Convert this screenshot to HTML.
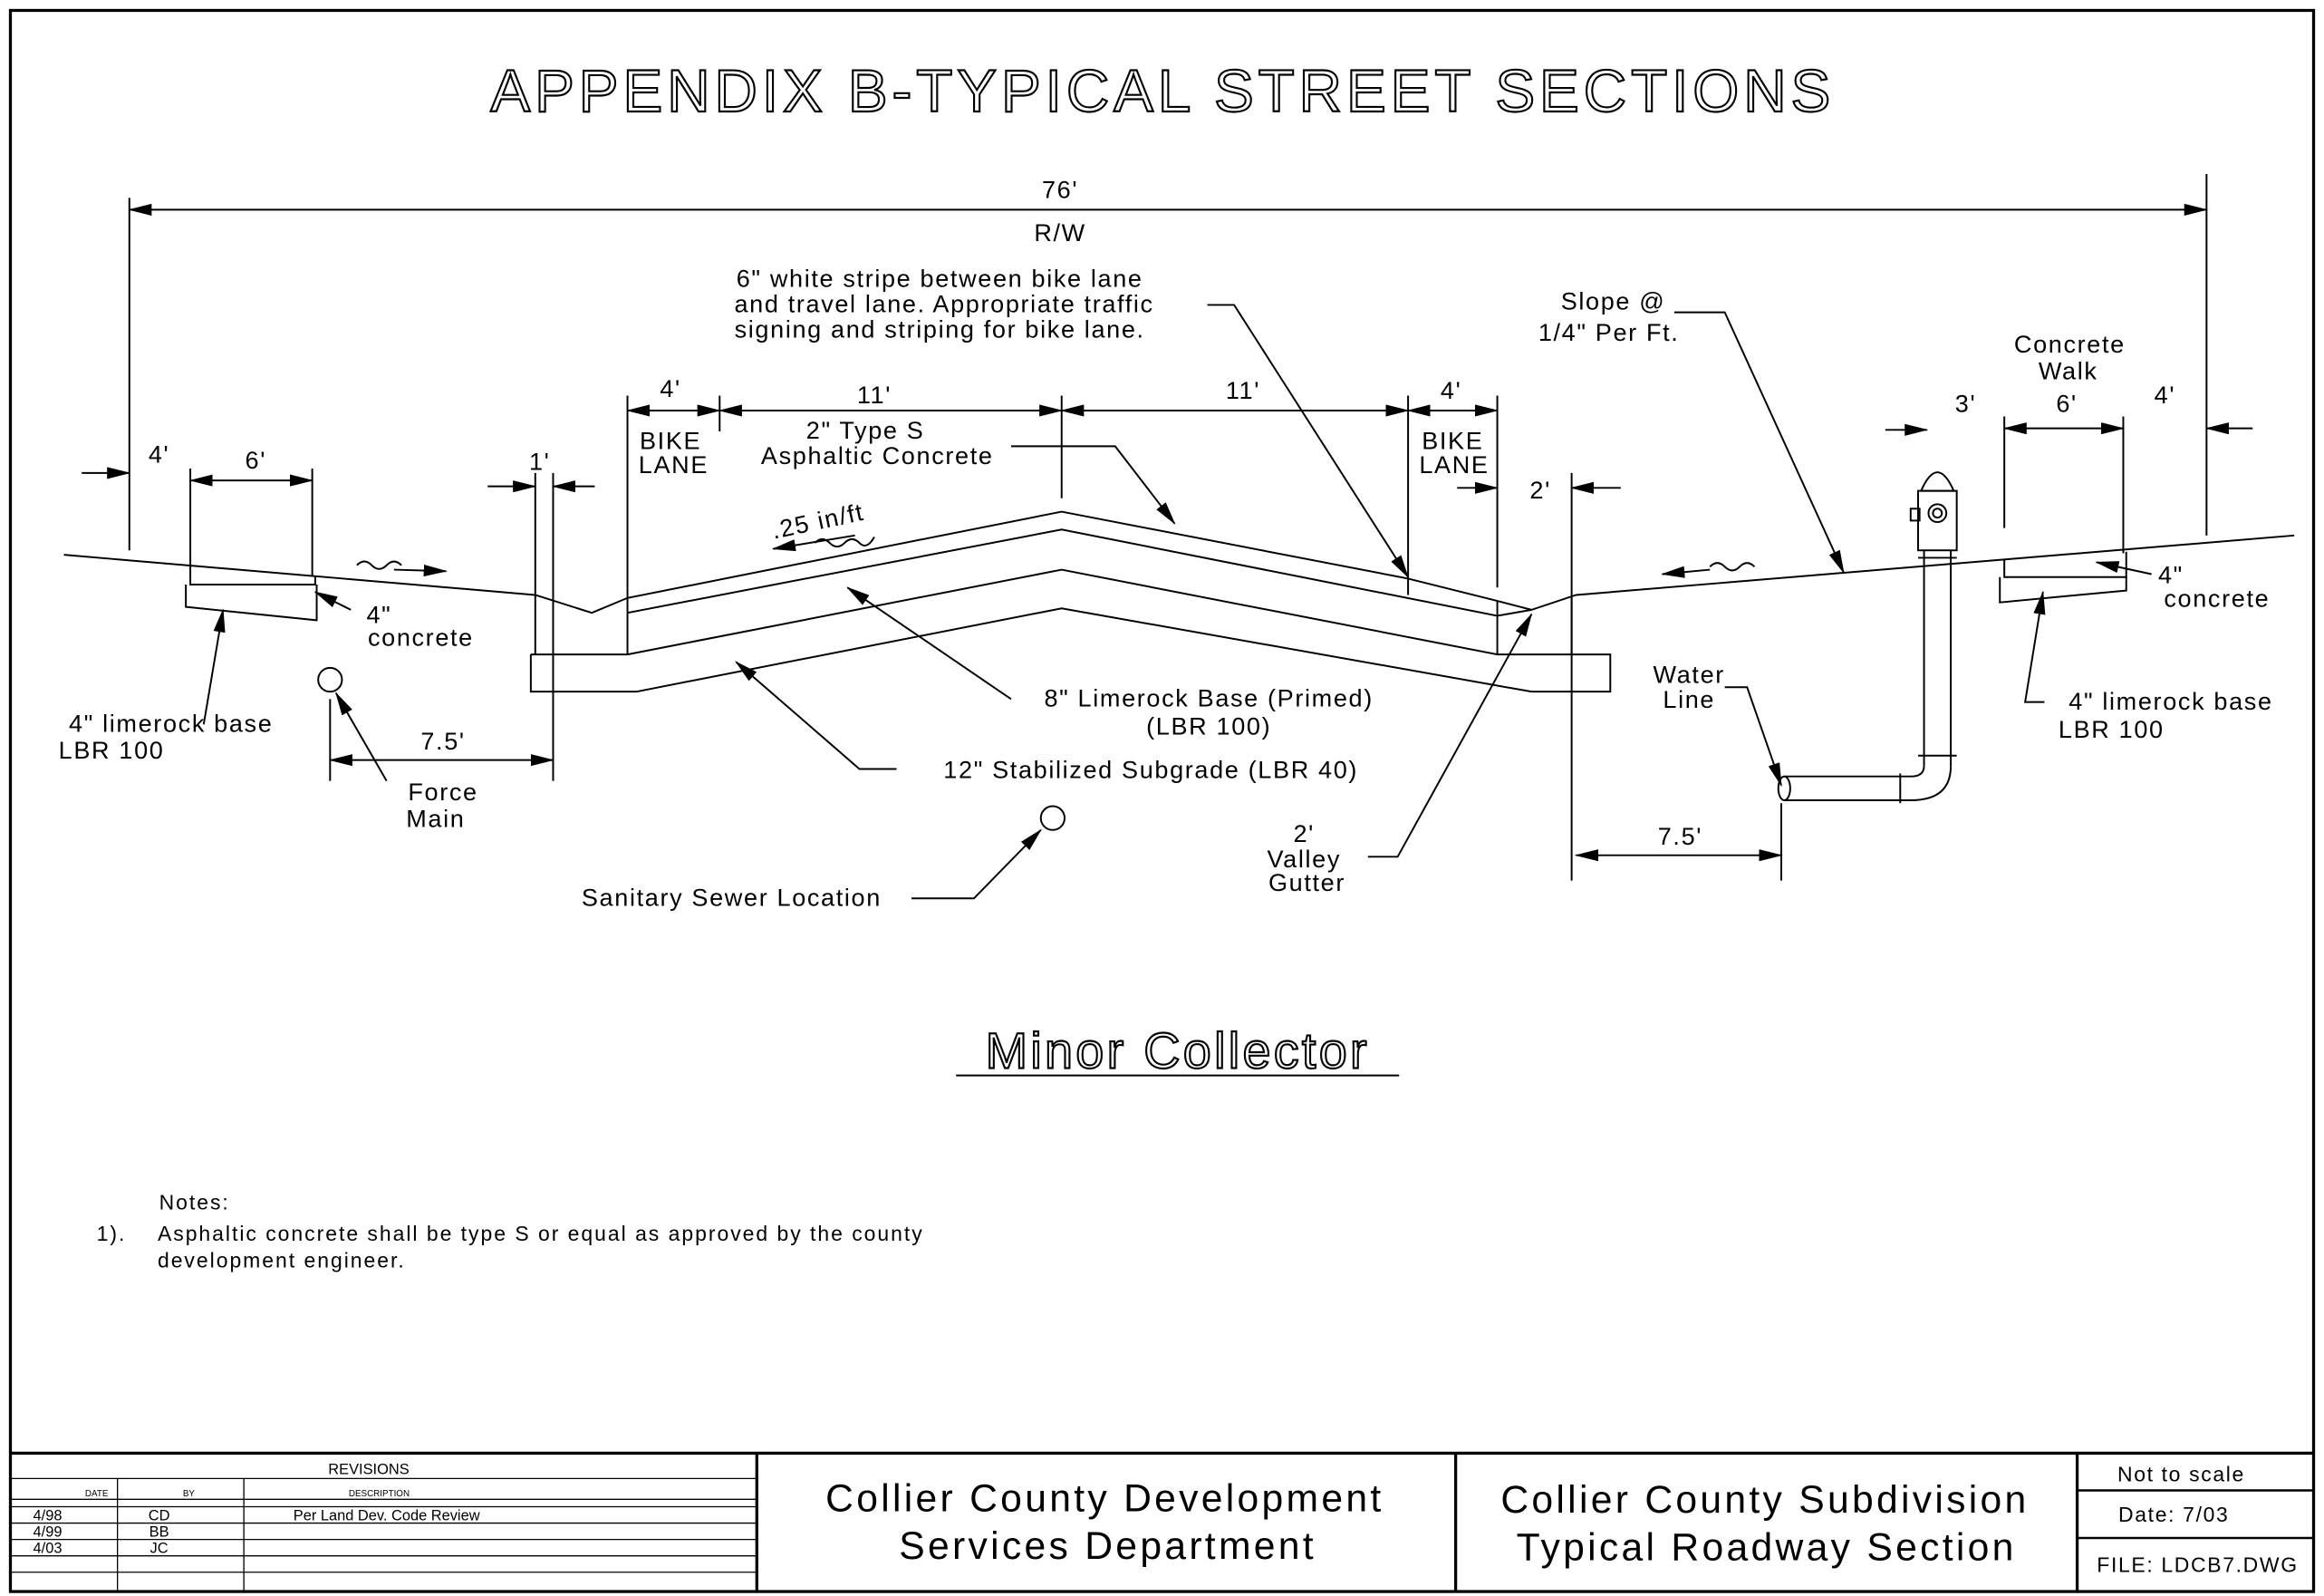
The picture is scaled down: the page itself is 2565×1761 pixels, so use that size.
<!DOCTYPE html>
<html><head><meta charset="utf-8"><style>
html,body{margin:0;padding:0;background:#fff;}
svg{display:block;}
text{font-family:"Liberation Sans",sans-serif;}
</style></head><body>
<svg width="2565" height="1761" viewBox="0 0 1563 1073" preserveAspectRatio="none" xmlns="http://www.w3.org/2000/svg">
<defs>
<marker id="a" markerUnits="userSpaceOnUse" markerWidth="16" markerHeight="8" refX="15" refY="4" orient="auto-start-reverse"><path d="M0,0 L16,4 L0,8 z" fill="#000"/></marker>
</defs>
<rect width="1563" height="1073" fill="#fff"/>
<rect x="7" y="7" width="1549" height="1063" fill="none" stroke="#000" stroke-width="2"/>
<text x="782" y="75" font-size="40" text-anchor="middle" style="fill:#fff;stroke:#000;stroke-width:1.3" letter-spacing="3">APPENDIX B-TYPICAL STREET SECTIONS</text>

<g stroke="#000" stroke-width="1.2" fill="none">
<line x1="87" y1="133" x2="87" y2="370"/><line x1="1484" y1="117" x2="1484" y2="360"/>
<line x1="87" y1="141" x2="1484" y2="141" marker-start="url(#a)" marker-end="url(#a)"/>
<path d="M43,373 L360,400 L398,412 L422,402 L714,344 L947,389 L1007,404 L1030,410 L1060,400 L1543,360"/>
<path d="M422,412 L714,356 L1007,414 L1030,410"/>
<path d="M422,440 L714,383 L1007,440"/>
<path d="M428,465 L714,409 L1030,465"/>
<path d="M357,440 L422,440 M357,440 L357,465 L428,465 M1007,440 L1083,440 L1083,465 L1030,465"/>
<line x1="360" y1="400" x2="360" y2="440"/><line x1="422" y1="395" x2="422" y2="440"/>
<line x1="1007" y1="404" x2="1007" y2="440"/><line x1="1057" y1="402" x2="1057" y2="440"/>
<line x1="947" y1="389" x2="947" y2="400"/>
<path d="M128,380 L128,393 L212,393 L212,387"/><path d="M125,393 L125,408 L213,417 L213,393"/>
<path d="M1348,376 L1348,388 L1430,388 L1430,371"/><path d="M1345,388 L1345,405 L1430,397 L1430,388"/>
<line x1="55" y1="318" x2="87" y2="318" marker-end="url(#a)"/>
<line x1="128" y1="315" x2="128" y2="380"/><line x1="210" y1="315" x2="210" y2="387"/>
<line x1="128" y1="323" x2="210" y2="323" marker-start="url(#a)" marker-end="url(#a)"/>
<line x1="328" y1="327" x2="360" y2="327" marker-end="url(#a)"/>
<line x1="400" y1="327" x2="372" y2="327" marker-end="url(#a)"/>
<line x1="360" y1="318" x2="360" y2="400"/><line x1="372" y1="318" x2="372" y2="525"/>
<line x1="222" y1="470" x2="222" y2="525"/>
<line x1="222" y1="511" x2="372" y2="511" marker-start="url(#a)" marker-end="url(#a)"/>
<line x1="422" y1="266" x2="422" y2="395"/><line x1="484" y1="266" x2="484" y2="290"/>
<line x1="714" y1="266" x2="714" y2="335"/><line x1="947" y1="266" x2="947" y2="389"/><line x1="1007" y1="266" x2="1007" y2="395"/>
<line x1="422" y1="276" x2="484" y2="276" marker-start="url(#a)" marker-end="url(#a)"/>
<line x1="484" y1="276" x2="714" y2="276" marker-start="url(#a)" marker-end="url(#a)"/>
<line x1="714" y1="276" x2="947" y2="276" marker-start="url(#a)" marker-end="url(#a)"/>
<line x1="947" y1="276" x2="1007" y2="276" marker-start="url(#a)" marker-end="url(#a)"/>
<line x1="980" y1="328" x2="1007" y2="328" marker-end="url(#a)"/>
<line x1="1090" y1="328" x2="1057" y2="328" marker-end="url(#a)"/>
<line x1="1057" y1="318" x2="1057" y2="592"/>
<line x1="1198" y1="540" x2="1198" y2="592"/>
<line x1="1060" y1="575" x2="1198" y2="575" marker-start="url(#a)" marker-end="url(#a)"/>
<line x1="1268" y1="289" x2="1296" y2="289" marker-end="url(#a)"/>
<line x1="1348" y1="280" x2="1348" y2="355"/><line x1="1428" y1="280" x2="1428" y2="372"/>
<line x1="1348" y1="288" x2="1428" y2="288" marker-start="url(#a)" marker-end="url(#a)"/>
<line x1="1515" y1="288" x2="1484" y2="288" marker-end="url(#a)"/>
<polyline points="812,205 830,205 947,388" marker-end="url(#a)"/>
<polyline points="680,300 750,300 790,352" marker-end="url(#a)"/>
<polyline points="1126,210 1160,210 1240,385" marker-end="url(#a)"/>
<polyline points="1447,386 1410,378" marker-end="url(#a)"/>
<polyline points="1375,472 1362,472 1374,398" marker-end="url(#a)"/>
<polyline points="1160,462 1175,462 1198,528" marker-end="url(#a)"/>
<polyline points="236,410 212,398" marker-end="url(#a)"/>
<polyline points="137,487 150,410" marker-end="url(#a)"/>
<polyline points="260,525 226,466" marker-end="url(#a)"/>
<polyline points="680,470 570,395" marker-end="url(#a)"/>
<polyline points="603,517 578,517 495,445" marker-end="url(#a)"/>
<polyline points="613,604 655,604 700,558" marker-end="url(#a)"/>
<polyline points="920,576 940,576 1030,413" marker-end="url(#a)"/>
<polyline points="575,360 520,369" marker-end="url(#a)"/>
<path d="M548,365 q5,-5 10,0 t10,0 t10,0 t10,-4"/>
<path d="M240,380 q5,-5 10,0 t10,0 t10,0"/><line x1="265" y1="383" x2="300" y2="384" marker-end="url(#a)"/>
<path d="M1150,381 q5,-5 10,0 t10,0 t10,0"/><line x1="1150" y1="383" x2="1118" y2="386" marker-end="url(#a)"/>
<circle cx="222" cy="457" r="8"/><circle cx="708" cy="550" r="8"/>
<path d="M1294,370 L1294,515 M1312,370 L1312,515"/>
<path d="M1292,330 Q1303,305 1314,330 Z"/>
<rect x="1290" y="330" width="26" height="40"/>
<circle cx="1303" cy="345" r="6"/><circle cx="1303" cy="345" r="3"/>
<rect x="1285" y="342" width="6" height="8"/>
<line x1="1290" y1="375" x2="1316" y2="375"/>
<path d="M1294,515 Q1294,522 1285,522 L1200,522 M1312,515 Q1312,538 1285,538 L1200,538"/>
<ellipse cx="1200" cy="530" rx="4" ry="8"/>
<line x1="1278" y1="520" x2="1278" y2="540"/><line x1="1290" y1="508" x2="1316" y2="508"/>
</g>

<g font-size="16.5" text-anchor="middle" letter-spacing="1">
<text x="713" y="133">76'</text><text x="713" y="162">R/W</text>
<text x="632" y="193">6" white stripe between bike lane</text>
<text x="635" y="210">and travel lane. Appropriate traffic</text>
<text x="632" y="227">signing and striping for bike lane.</text>
<text x="107" y="311">4'</text><text x="172" y="315">6'</text><text x="363" y="316">1'</text>
<text x="451" y="267">4'</text><text x="588" y="271">11'</text><text x="836" y="268">11'</text><text x="976" y="268">4'</text>
<text x="451" y="302">BIKE</text><text x="453" y="318">LANE</text>
<text x="977" y="302">BIKE</text><text x="978" y="318">LANE</text>
<text x="582" y="295">2" Type S</text><text x="590" y="312">Asphaltic Concrete</text>
<text x="550" y="356" transform="rotate(-12 550 350)">.25 in/ft</text>
<text x="1036" y="335">2'</text>
<text x="1085" y="208">Slope @</text><text x="1082" y="229">1/4" Per Ft.</text>
<text x="1392" y="237">Concrete</text><text x="1391" y="255">Walk</text>
<text x="1322" y="277">3'</text><text x="1390" y="277">6'</text><text x="1456" y="271">4'</text>
<text x="1460" y="392">4"</text><text x="1491" y="408">concrete</text>
<text x="1460" y="477">4" limerock base</text><text x="1420" y="496">LBR 100</text>
<text x="1136" y="459">Water</text><text x="1136" y="476">Line</text>
<text x="1130" y="568">7.5'</text>
<text x="255" y="419">4"</text><text x="283" y="434">concrete</text>
<text x="115" y="492">4" limerock base</text><text x="75" y="510">LBR 100</text>
<text x="298" y="504">7.5'</text>
<text x="298" y="538">Force</text><text x="293" y="556">Main</text>
<text x="813" y="475">8" Limerock Base (Primed)</text><text x="813" y="494">(LBR 100)</text>
<text x="774" y="523">12" Stabilized Subgrade (LBR 40)</text>
<text x="492" y="609">Sanitary Sewer Location</text>
<text x="877" y="566">2'</text><text x="877" y="583">Valley</text><text x="879" y="599">Gutter</text>
</g>
<text x="792" y="718" font-size="34" text-anchor="middle" style="fill:#fff;stroke:#000;stroke-width:1.3" letter-spacing="2">Minor Collector</text>
<line x1="643" y1="723" x2="941" y2="723" stroke="#000" stroke-width="1.2"/>
<g font-size="14" letter-spacing="1.2">
<text x="107" y="813">Notes:</text>
<text x="65" y="834">1).</text>
<text x="106" y="834">Asphaltic concrete shall be type S or equal as approved by the county</text>
<text x="106" y="852">development engineer.</text>
</g>

<g stroke="#000" fill="none">
<line x1="7" y1="977" x2="1556" y2="977" stroke-width="2"/>
<line x1="509" y1="977" x2="509" y2="1070" stroke-width="2"/>
<line x1="979" y1="977" x2="979" y2="1070" stroke-width="2"/>
<line x1="1397" y1="977" x2="1397" y2="1070" stroke-width="2"/>
<line x1="1397" y1="1002" x2="1556" y2="1002" stroke-width="1.5"/>
<line x1="1397" y1="1034" x2="1556" y2="1034" stroke-width="1.5"/>
<g stroke-width="0.8">
<line x1="7" y1="994" x2="509" y2="994"/>
<line x1="7" y1="1008" x2="509" y2="1008"/>
<line x1="7" y1="1013" x2="509" y2="1013"/>
<line x1="7" y1="1024" x2="509" y2="1024"/>
<line x1="7" y1="1035" x2="509" y2="1035"/>
<line x1="7" y1="1046" x2="509" y2="1046"/>
<line x1="7" y1="1057" x2="509" y2="1057"/>
<line x1="79" y1="994" x2="79" y2="1070"/>
<line x1="164" y1="994" x2="164" y2="1070"/>
</g></g>
<g text-anchor="middle">
<text x="248" y="991" font-size="10">REVISIONS</text>
<text x="65" y="1006" font-size="6">DATE</text><text x="127" y="1006" font-size="6">BY</text><text x="255" y="1006" font-size="6">DESCRIPTION</text>
<text x="32" y="1022" font-size="10">4/98</text><text x="107" y="1022" font-size="10">CD</text><text x="260" y="1022" font-size="10">Per Land Dev. Code Review</text>
<text x="32" y="1033" font-size="10">4/99</text><text x="107" y="1033" font-size="10">BB</text>
<text x="32" y="1044" font-size="10">4/03</text><text x="107" y="1044" font-size="10">JC</text>
<g font-size="26" letter-spacing="2">
<text x="743" y="1016">Collier County Development</text>
<text x="745" y="1048">Services Department</text>
<text x="1187" y="1017">Collier County Subdivision</text>
<text x="1188" y="1049">Typical Roadway Section</text>
</g>
<text x="1467" y="996" font-size="14" letter-spacing="1">Not to scale</text>
<text x="1462" y="1023" font-size="14" letter-spacing="1">Date: 7/03</text>
<text x="1478" y="1057" font-size="14" letter-spacing="1">FILE: LDCB7.DWG</text>
</g>
</svg>
</body></html>
